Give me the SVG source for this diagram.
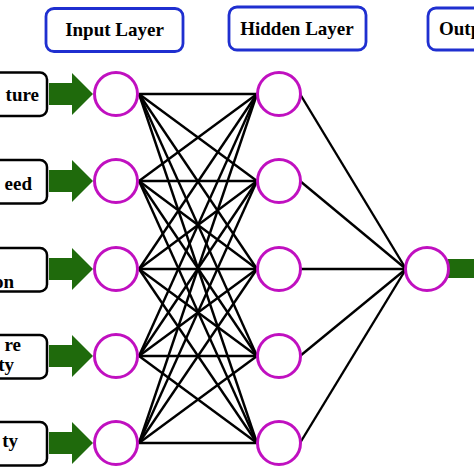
<svg xmlns="http://www.w3.org/2000/svg" xmlns:xlink="http://www.w3.org/1999/xlink" width="474" height="474" viewBox="0 0 474 474">
<style>
.hdr{fill:#fff;stroke:#1f2fd0;stroke-width:2.8}
.box{fill:#fff;stroke:#000;stroke-width:2.5}
.node{fill:#fff;stroke:#c010c0;stroke-width:3}
.lbl{font-family:"Liberation Serif","Times New Roman",serif;font-weight:bold;font-size:19px;fill:#000}
.conn line{stroke:#000;stroke-width:2.4}
.arr{fill:#1f6a0c}
</style>
<defs>
<path id="arrow" d="M49,83 H72 V73 L93,94 L72,115 V105 H49 Z"/>
</defs>
<rect width="474" height="474" fill="#fff"/>
<g id="hdr-input"><rect class="hdr" x="46" y="8.5" width="137" height="43" rx="8"/><text class="lbl" x="114.5" y="36" text-anchor="middle">Input Layer</text></g>
<g id="hdr-hidden"><rect class="hdr" x="229" y="7" width="137" height="43" rx="8"/><text class="lbl" x="297" y="35" text-anchor="middle">Hidden Layer</text></g>
<g id="hdr-output"><rect class="hdr" x="428" y="8" width="80" height="42" rx="8"/><text class="lbl" x="439" y="35">Outp</text></g>
<g class="conn" id="connectors">
<g id="in-hid">
<line x1="139" y1="94" x2="257" y2="94"/><line x1="139" y1="94" x2="257" y2="181"/><line x1="139" y1="94" x2="257" y2="269"/><line x1="139" y1="94" x2="257" y2="356"/><line x1="139" y1="94" x2="257" y2="443"/>
<line x1="139" y1="181" x2="257" y2="94"/><line x1="139" y1="181" x2="257" y2="181"/><line x1="139" y1="181" x2="257" y2="269"/><line x1="139" y1="181" x2="257" y2="356"/><line x1="139" y1="181" x2="257" y2="443"/>
<line x1="139" y1="269" x2="257" y2="94"/><line x1="139" y1="269" x2="257" y2="181"/><line x1="139" y1="269" x2="257" y2="269"/><line x1="139" y1="269" x2="257" y2="356"/><line x1="139" y1="269" x2="257" y2="443"/>
<line x1="139" y1="356" x2="257" y2="94"/><line x1="139" y1="356" x2="257" y2="181"/><line x1="139" y1="356" x2="257" y2="269"/><line x1="139" y1="356" x2="257" y2="356"/><line x1="139" y1="356" x2="257" y2="443"/>
<line x1="139" y1="443" x2="257" y2="94"/><line x1="139" y1="443" x2="257" y2="181"/><line x1="139" y1="443" x2="257" y2="269"/><line x1="139" y1="443" x2="257" y2="356"/><line x1="139" y1="443" x2="257" y2="443"/>
</g>
<g id="hid-out">
<line x1="300" y1="94" x2="406" y2="269"/><line x1="300" y1="181" x2="406" y2="269"/><line x1="300" y1="269" x2="406" y2="269"/><line x1="300" y1="356" x2="406" y2="269"/><line x1="300" y1="443" x2="406" y2="269"/>
</g>
<g id="arrows">
<use xlink:href="#arrow" href="#arrow" class="arr"/>
<use xlink:href="#arrow" href="#arrow" class="arr" transform="translate(0,87)"/>
<use xlink:href="#arrow" href="#arrow" class="arr" transform="translate(0,175)"/>
<use xlink:href="#arrow" href="#arrow" class="arr" transform="translate(0,262)"/>
<use xlink:href="#arrow" href="#arrow" class="arr" transform="translate(0,349)"/>
<rect class="arr" x="448" y="259" width="30" height="19"/>
</g>
</g>
<g id="src1"><rect class="box" x="-20" y="72.5" width="67" height="43.5" rx="7"/><text class="lbl" x="39" y="101" text-anchor="end">ture</text></g>
<g id="src2"><rect class="box" x="-20" y="160" width="67" height="43.5" rx="7"/><text class="lbl" x="32" y="190" text-anchor="end">eed</text></g>
<g id="src3"><rect class="box" x="-20" y="248" width="67" height="43.5" rx="7"/><text class="lbl" x="14" y="288" text-anchor="end">on</text></g>
<g id="src4"><rect class="box" x="-20" y="335" width="67" height="43.5" rx="7"/><text class="lbl" x="21" y="351" text-anchor="end">re</text><text class="lbl" x="14" y="371" text-anchor="end">ty</text></g>
<g id="src5"><rect class="box" x="-20" y="422" width="67" height="43.5" rx="7"/><text class="lbl" x="18" y="447" text-anchor="end">ty</text></g>
<g id="in1"><circle class="node" cx="116" cy="94" r="21.5"/></g>
<g id="in2"><circle class="node" cx="116" cy="181" r="21.5"/></g>
<g id="in3"><circle class="node" cx="116" cy="269" r="21.5"/></g>
<g id="in4"><circle class="node" cx="116" cy="356" r="21.5"/></g>
<g id="in5"><circle class="node" cx="116" cy="443" r="21.5"/></g>
<g id="hid1"><circle class="node" cx="279" cy="94" r="21.5"/></g>
<g id="hid2"><circle class="node" cx="279" cy="181" r="21.5"/></g>
<g id="hid3"><circle class="node" cx="279" cy="269" r="21.5"/></g>
<g id="hid4"><circle class="node" cx="279" cy="356" r="21.5"/></g>
<g id="hid5"><circle class="node" cx="279" cy="443" r="21.5"/></g>
<g id="out1"><circle class="node" cx="427" cy="269" r="21.5"/></g>
</svg>
